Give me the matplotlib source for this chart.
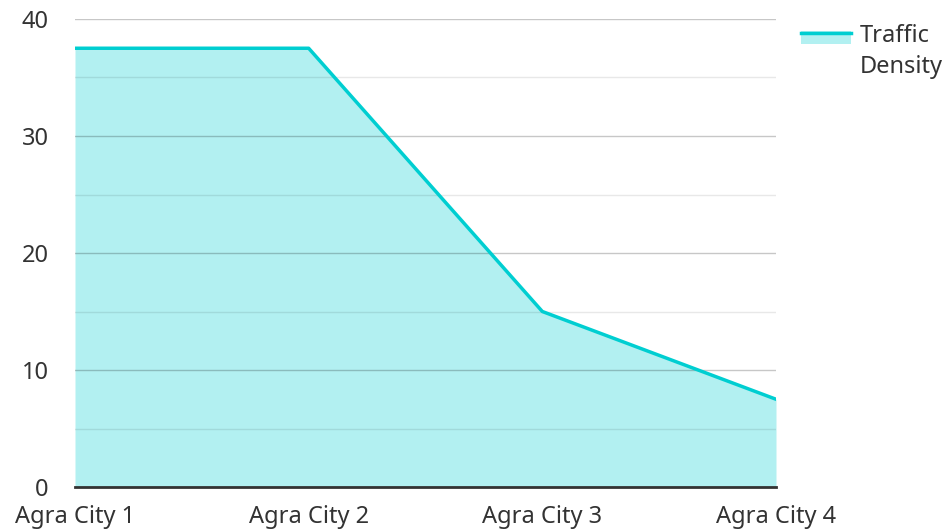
import numpy as np
import matplotlib.pyplot as plt
from matplotlib.patches import Rectangle
from matplotlib.lines import Line2D

#data
cities = ["Agra City 1", "Agra City 2", "Agra City 3", "Agra City 4"]
density = [37.5, 37.5, 15, 7.5]
yticks = [0, 10, 20, 30, 40]

plt.rcParams['font.family'] = ['Noto Sans', 'DejaVu Sans']

W, H = 950, 531
fig = plt.figure(figsize=(W / 100, H / 100), dpi=100)
ax = fig.add_axes([75 / W, 1 - 487 / H, (776 - 75) / W, (487 - 19) / H])

teal = '#00CED1'
x = np.arange(len(cities))
ax.fill_between(x, density, 0, color=teal, alpha=0.3, linewidth=0, zorder=1)
ax.plot(x, density, color=teal, linewidth=2.5, zorder=3)

ax.set_xlim(0, len(cities) - 1)
ax.set_ylim(0, 40)
ax.set_xticks(x)
ax.set_xticklabels(cities)
ax.set_yticks(yticks)
ax.set_yticks([5, 15, 25, 35], minor=True)

ax.tick_params(axis='both', which='both', length=0, labelsize=17, labelcolor='#333333')
ax.tick_params(axis='y', pad=19)
ax.tick_params(axis='x', pad=13)

#grid lines sit on top of the fill, semi transparent black
ax.set_axisbelow(False)
ax.grid(axis='y', which='major', color='black', alpha=0.22, linewidth=1)
ax.grid(axis='y', which='minor', color='black', alpha=0.09, linewidth=1)
ax.grid(axis='x', visible=False)

for s in ['top', 'right', 'left']:
    ax.spines[s].set_visible(False)
ax.spines['bottom'].set_color('#333333')
ax.spines['bottom'].set_linewidth(2)
ax.spines['bottom'].set_zorder(4)

#legend drawn by hand: filled box with the line on its top edge
fig.patches.append(Rectangle((801 / W, 1 - 44 / H), 50 / W, 13 / H,
                             transform=fig.transFigure, facecolor=teal,
                             alpha=0.3, edgecolor='none'))
fig.lines.append(Line2D([801 / W, 851 / W], [1 - 33 / H, 1 - 33 / H],
                        transform=fig.transFigure, color=teal, linewidth=2.5))
fig.text(860 / W, 1 - 24 / H, "Traffic\nDensity", fontsize=17, color='#333333',
         va='top', ha='left', linespacing=1.4)

fig.savefig('out.png', dpi=100)
